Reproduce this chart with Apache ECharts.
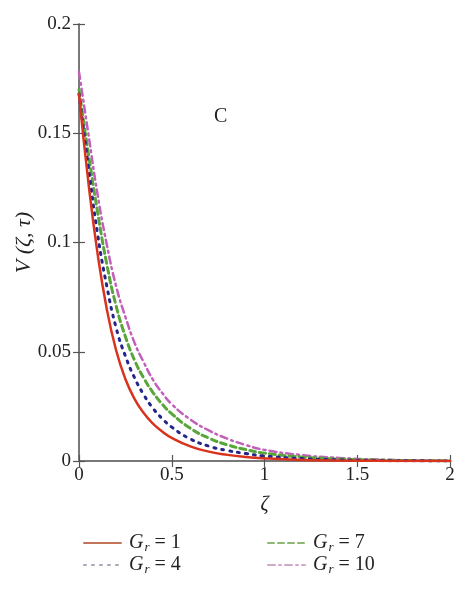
<!DOCTYPE html>
<html><head><meta charset="utf-8">
<script src="https://cdn.jsdelivr.net/npm/echarts@6/dist/echarts.min.js"></script>
<style>html,body{margin:0;padding:0;background:#fff}#c{width:474px;height:591px}</style>
</head><body><div id="c"></div>
<script>
const zeta = [0,0.05,0.1,0.15,0.2,0.25,0.3,0.35,0.4,0.45,0.5,0.6,0.7,0.8,0.9,1.0,1.2,1.4,1.6,1.8,2.0];
const grValues = [1,4,7,10];
const gr1  = [0.168,0.128,0.095,0.0695,0.0507,0.0375,0.0283,0.0218,0.0170,0.0134,0.0106,0.0067,0.0043,0.0028,0.0018,0.0012,0.0005,0.0002,0.0001,0,0];
const gr4  = [0.168,0.135,0.104,0.080,0.061,0.048,0.038,0.0302,0.0240,0.0193,0.0155,0.0101,0.0068,0.0048,0.0034,0.0023,0.0011,0.0005,0.0002,0.0001,0];
const gr7  = [0.170,0.141,0.114,0.090,0.071,0.057,0.046,0.0378,0.0312,0.0259,0.0216,0.0150,0.0105,0.0074,0.0052,0.0036,0.0018,0.0009,0.0004,0.0002,0];
const gr10 = [0.178,0.150,0.122,0.099,0.080,0.066,0.054,0.045,0.037,0.031,0.026,0.0190,0.0140,0.0102,0.0073,0.0051,0.0027,0.0014,0.0007,0.0003,0.0001];
const xTicks = {min:0,max:2,interval:0.5};
const yTicks = {min:0,max:0.2,interval:0.05};

const seriesData = [gr1,gr4,gr7,gr10];
const names = grValues.map(v => 'G_r = ' + v);
const colors = ['#d9331d','#24248c','#58a63a','#c25fba'];
const legendColors = ['#c47458','#a8a8b8','#8cb874','#d0a8c8'];
const types = ['solid',[2,6],[6,4],[7,4,2,4]];
const widths = [2.5,3,3,2.5];

const chart = echarts.init(document.getElementById('c'));
const serif = 'Liberation Serif';
const axisLine = {show:true,lineStyle:{color:'#707070',width:1.5}};
const tick = {show:true,inside:true,length:6,lineStyle:{color:'#555',width:1.2}};
const rich = {
  g:{fontFamily:serif,fontSize:20,fontStyle:'italic',color:'#222',padding:[0,0,0,3]},
  s:{fontFamily:serif,fontSize:13,fontStyle:'italic',color:'#222',padding:[9,0,0,1]},
  t:{fontFamily:serif,fontSize:20,color:'#222'}
};
function legendFmt(name){
  const v = name.split('= ')[1];
  return '{g|G}{s|r}{t| = ' + v + '}';
}
function legendData(idx){
  return idx.map(i => ({name:names[i], lineStyle:{color:legendColors[i],type:types[i],width:2}, itemStyle:{opacity:0}}));
}
chart.setOption({
  animation:false,
  grid:{left:79,top:24,right:24,bottom:130,containLabel:false,outerBoundsMode:'none'},
  xAxis:[
    {type:'value',min:xTicks.min,max:xTicks.max,interval:xTicks.interval,position:'bottom',
     axisLine,axisTick:tick,splitLine:{show:false},
     axisLabel:{fontFamily:serif,fontSize:19,color:'#222',margin:5},
     name:'ζ',nameLocation:'middle',nameGap:34,nameMoveOverlap:false,
     nameTextStyle:{fontFamily:serif,fontSize:20,fontStyle:'italic',color:'#222'}},
    {type:'value',min:xTicks.min,max:xTicks.max,interval:xTicks.interval,position:'top',
     axisLine,axisTick:tick,axisLabel:{show:false},splitLine:{show:false}}
  ],
  yAxis:[
    {type:'value',min:yTicks.min,max:yTicks.max,interval:yTicks.interval,position:'left',
     axisLine,axisTick:tick,splitLine:{show:false},
     axisLabel:{fontFamily:serif,fontSize:19,color:'#222',margin:8},
     name:'V (ζ, τ)',nameLocation:'middle',nameGap:44,nameMoveOverlap:false,
     nameTextStyle:{fontFamily:serif,fontSize:22,fontStyle:'italic',color:'#222'}},
    {type:'value',min:yTicks.min,max:yTicks.max,interval:yTicks.interval,position:'right',
     axisLine,axisTick:tick,axisLabel:{show:false},splitLine:{show:false}}
  ],
  legend:[
    {id:'legA',left:78,top:528,orient:'vertical',itemWidth:37,itemHeight:14,itemGap:1,
     data:legendData([0,1]),formatter:legendFmt,textStyle:{rich}},
    {id:'legB',left:262,top:528,orient:'vertical',itemWidth:37,itemHeight:14,itemGap:1,
     data:legendData([2,3]),formatter:legendFmt,textStyle:{rich}}
  ],
  graphic:[{type:'text',left:214,top:107,style:{text:'C',font:'20px "Liberation Serif"',fill:'#222'}}],
  series: seriesData.map((d,i)=>({
    name:names[i],type:'line',smooth:0.5,showSymbol:false,symbol:'none',
    data:zeta.map((x,j)=>[x,d[j]]),
    lineStyle:{color:colors[i],type:types[i],width:widths[i],cap:'round'},
    itemStyle:{color:colors[i]},
    z: 10-i
  }))
});
</script></body></html>
